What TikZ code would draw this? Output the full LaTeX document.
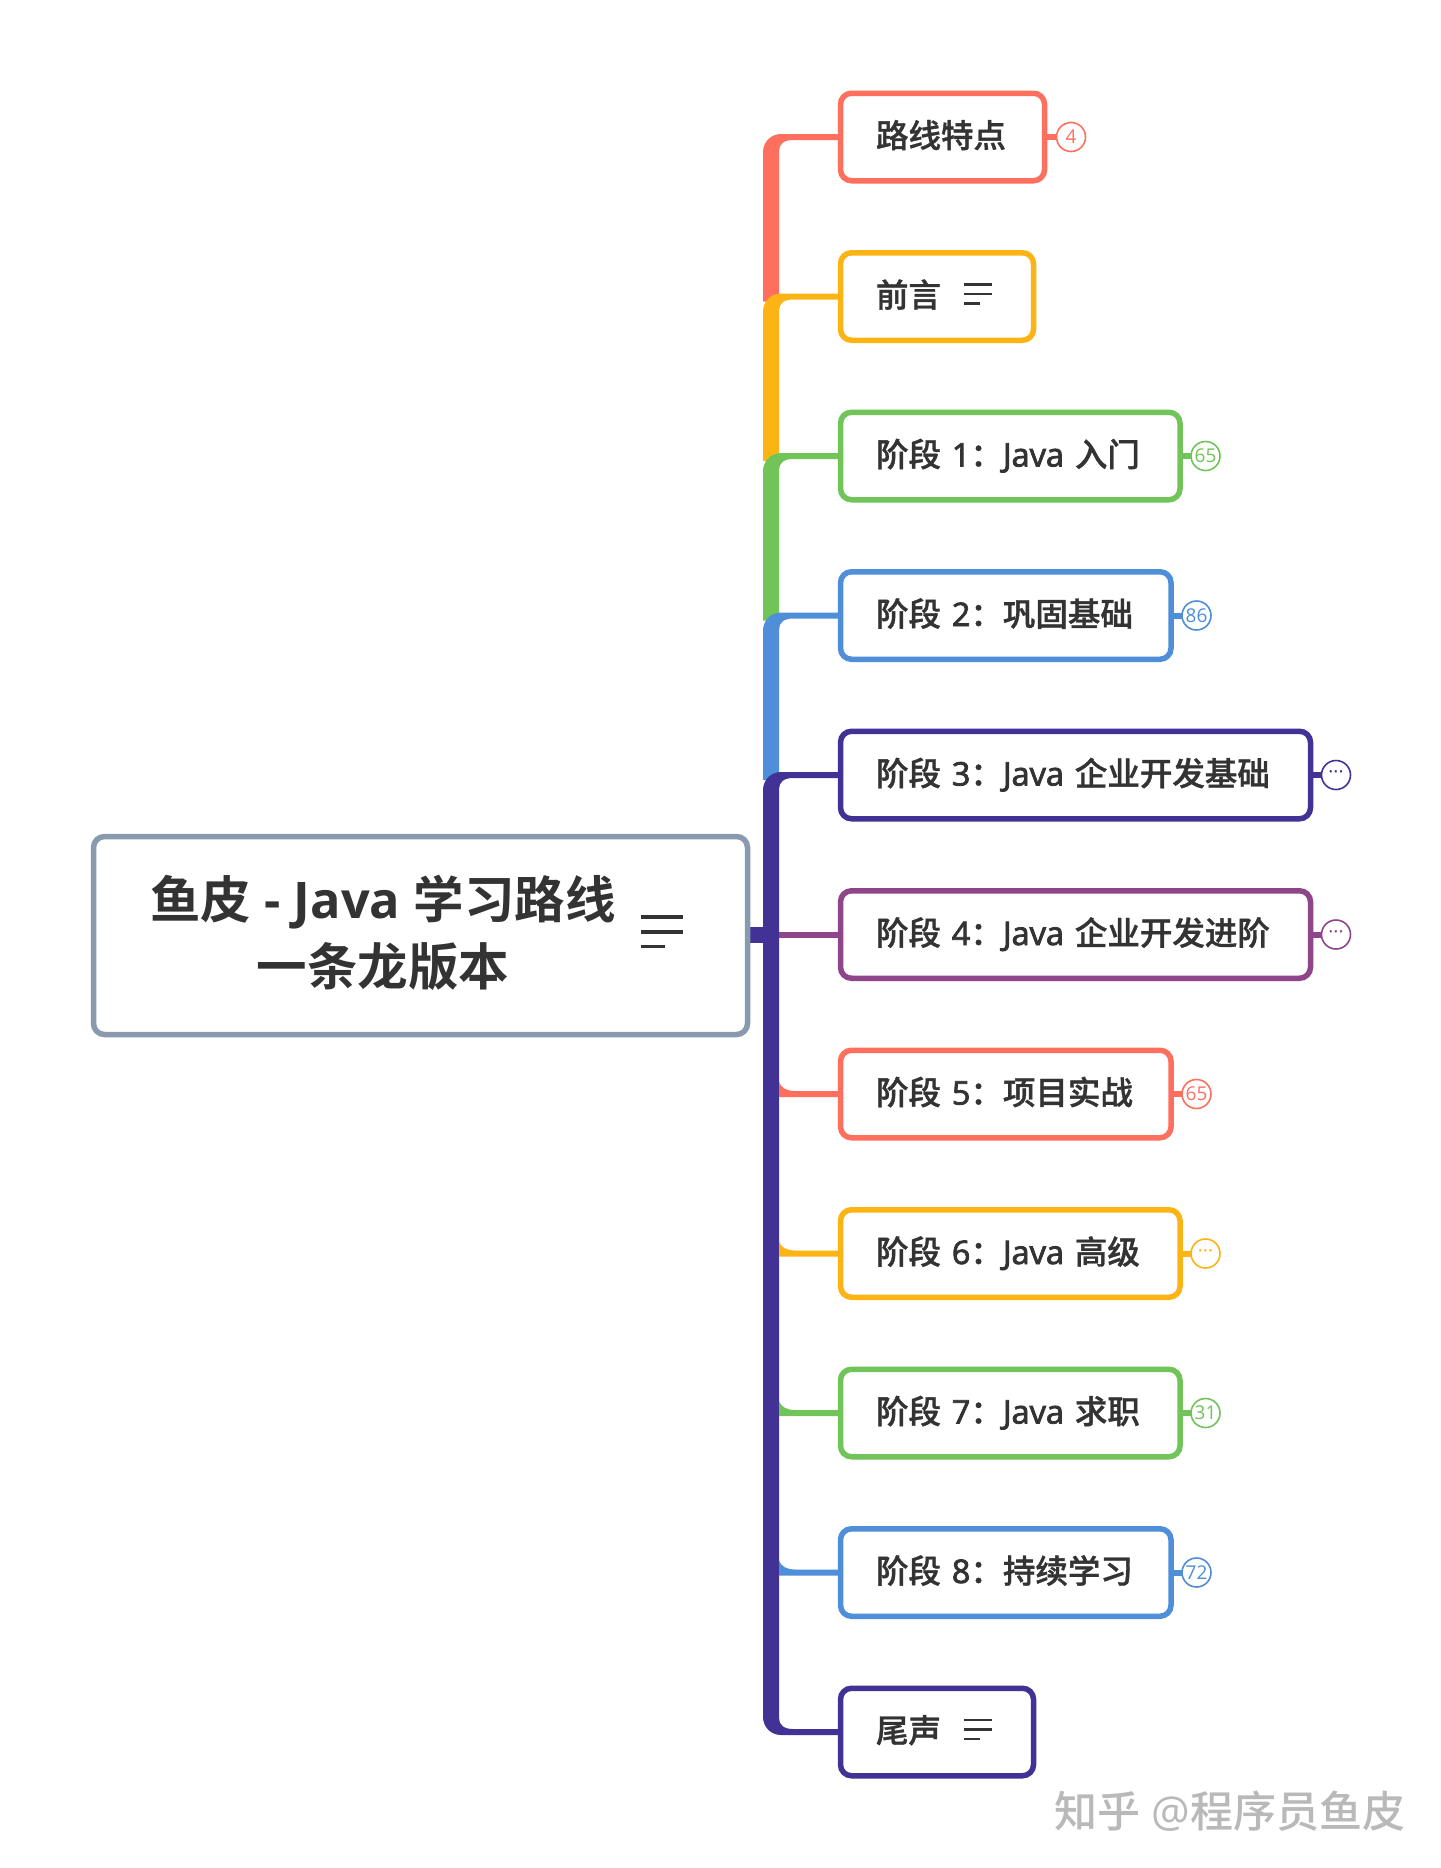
\documentclass[tikz,border=0pt]{standalone}
\usepackage{fontspec}
\usetikzlibrary{backgrounds,calc}
\setmainfont{Open Sans}
\newfontfamily\cj{Noto Sans CJK SC Medium}[FakeBold=1.1]
\newfontfamily\cjw{Noto Sans CJK SC Medium}
\newfontfamily\cjb{Noto Sans CJK SC Bold}
\newfontfamily\lt{Open Sans}[FakeBold=2.4]
\newfontfamily\ltb{Open Sans}
\definecolor{cred}{HTML}{FF6F5E}
\definecolor{cyel}{HTML}{FBB414}
\definecolor{cgrn}{HTML}{70C458}
\definecolor{cblu}{HTML}{4F8ED8}
\definecolor{cpur}{HTML}{423295}
\definecolor{cmag}{HTML}{8E4589}
\definecolor{cgry}{HTML}{8A9AAE}
\definecolor{ctxt}{HTML}{333333}
\definecolor{cwm}{HTML}{B9B9B9}
\tikzset{
  topic/.style={draw=#1,line width=5.5pt,fill=white,rounded corners=11pt,outer sep=0pt,
    minimum height=87.5pt,inner ysep=0pt,inner xsep=35.5pt,align=left,text=ctxt,
    font=\fontsize{32.5}{32.5}\selectfont,text height=21pt,text depth=0pt,anchor=west},
  rootbox/.style={draw=cgry,line width=5.5pt,fill=white,rounded corners=11pt,outer sep=0pt,
    minimum width=654pt,minimum height=198pt,anchor=center,inner sep=0pt},
  roottext/.style={align=center,text=ctxt,inner sep=0pt,
    font=\fontsize{50.5}{67}\selectfont},
  badge/.style={circle,draw=#1,line width=1.6pt,fill=white,minimum size=29pt,inner sep=0pt,
    outer sep=0pt,text=#1,font=\fontsize{19}{19}\selectfont},
  stub/.style={line width=6pt,draw=#1},
  notes/.style={line width=2.8pt,draw=#1},
  watermark/.style={text=cwm,inner sep=0pt,font=\fontsize{43}{43}\selectfont}
}
% branch with a rounded top corner: node, colour, next node, extra length past it
\newcommand\topbranch[4]{%
  \fill[#2] let \p1=(#1.west),\p2=(#3.west),\p3=(trunkL),\p4=(trunkR) in
    (\x3,\y2+#4) -- (\x3,\y1-15pt)
    .. controls (\x3,\y1-5pt) and (\x3+8pt,\y1+3pt) .. (\x3+18pt,\y1+3pt)
    -- (\x1,\y1+3pt) -- (\x1,\y1-3pt) -- (\x4+14pt,\y1-3pt)
    .. controls (\x4+5pt,\y1-3pt) and (\x4,\y1-7pt) .. (\x4,\y1-14pt)
    -- (\x4,\y2+#4) -- cycle;}
% branch with a small flare against the trunk
\newcommand\midbranch[2]{%
  \fill[#2] let \p1=(#1.west),\p4=(trunkR) in
    (\x4,\y1+12pt) .. controls (\x4+2pt,\y1+6pt) and (\x4+8pt,\y1+3pt) .. (\x4+16pt,\y1+3pt)
    -- (\x1,\y1+3pt) -- (\x1,\y1-3pt) -- (\x4,\y1-3pt) -- cycle;}
% last branch with rounded bottom corner
\newcommand\lastbranch[2]{%
  \fill[#2] let \p1=(#1.west),\p3=(trunkL),\p4=(trunkR) in
    (\x3,\y1+15pt)
    .. controls (\x3,\y1+5pt) and (\x3+8pt,\y1-3pt) .. (\x3+18pt,\y1-3pt)
    -- (\x1,\y1-3pt) -- (\x1,\y1+3pt) -- (\x4+14pt,\y1+3pt)
    .. controls (\x4+5pt,\y1+3pt) and (\x4,\y1+7pt) .. (\x4,\y1+14pt) -- cycle;}
% three note lines, given the top-left point
\newcommand\noteicon[5]{%
  \draw[notes=#5] let \p1=(#1) in (\x1,\y1) -- (\x1+#2,\y1)
     (\x1,\y1-#4) -- (\x1+#2,\y1-#4)
     (\x1,\y1-2*#4) -- (\x1+#3,\y1-2*#4);}
\newcommand\Lat[1]{{\lt #1}}
\begin{document}
\begin{tikzpicture}[x=1pt,y=-1pt]
\useasboundingbox (0,0) rectangle (1440,1868);
\begin{pgfonlayer}{background}
  \fill[white] (0,0) rectangle (1440,1868);
\end{pgfonlayer}
\coordinate (trunkL) at (763,0);
\coordinate (trunkR) at (779,0);

\node[rootbox] (root) at (420.5,935.5) {};
\node[roottext] (rootlabel) at (383,933) {{\cjb 鱼皮} {\ltb\bfseries - Java} {\cjb 学习路线}\\{\cjb 一条龙版本}};

\node[topic=cred,text width=133pt] (n0) at (840.5,137) {{\cj 路线特点}};
\node[topic=cyel,text width=122pt] (n1) at (840.5,296.5) {{\cj 前言}};
\node[topic=cgrn,text width=268.5pt] (n2) at (840.5,456) {{\cj 阶段} \Lat{1}{\cj ：}\Lat{Java} {\cj 入门}};
\node[topic=cblu,text width=259.5pt] (n3) at (840.5,615.5) {{\cj 阶段} \Lat{2}{\cj ：巩固基础}};
\node[topic=cpur,text width=399pt] (n4) at (840.5,775) {{\cj 阶段} \Lat{3}{\cj ：}\Lat{Java} {\cj 企业开发基础}};
\node[topic=cmag,text width=399pt] (n5) at (840.5,934.5) {{\cj 阶段} \Lat{4}{\cj ：}\Lat{Java} {\cj 企业开发进阶}};
\node[topic=cred,text width=259.5pt] (n6) at (840.5,1094) {{\cj 阶段} \Lat{5}{\cj ：项目实战}};
\node[topic=cyel,text width=268.5pt] (n7) at (840.5,1253.5) {{\cj 阶段} \Lat{6}{\cj ：}\Lat{Java} {\cj 高级}};
\node[topic=cgrn,text width=268.5pt] (n8) at (840.5,1413) {{\cj 阶段} \Lat{7}{\cj ：}\Lat{Java} {\cj 求职}};
\node[topic=cblu,text width=259.5pt] (n9) at (840.5,1572.5) {{\cj 阶段} \Lat{8}{\cj ：持续学习}};
\node[topic=cpur,text width=122pt] (n10) at (840.5,1732) {{\cj 尾声}};

\node[badge=cred] (b0) at (1071,137) {4};
\node[badge=cgrn] (b2) at (1205.5,456) {65};
\node[badge=cblu] (b3) at (1196.5,615.5) {86};
\node[badge=cpur] (b4) at (1336,775) {···};
\node[badge=cmag] (b5) at (1336,934.5) {···};
\node[badge=cred] (b6) at (1196.5,1094) {65};
\node[badge=cyel] (b7) at (1205.5,1253.5) {···};
\node[badge=cgrn] (b8) at (1205.5,1413) {31};
\node[badge=cblu] (b9) at (1196.5,1572.5) {72};

\begin{pgfonlayer}{background}
  \topbranch{n0}{cred}{n1}{-5pt}
  \topbranch{n1}{cyel}{n2}{-5pt}
  \topbranch{n2}{cgrn}{n3}{-5pt}
  \topbranch{n3}{cblu}{n4}{-5pt}
  \topbranch{n4}{cpur}{n10}{14pt}
  \lastbranch{n10}{cpur}
  \draw[stub=cmag] (trunkR |- n5.west) -- (n5.west);
  \midbranch{n6}{cred}
  \midbranch{n7}{cyel}
  \midbranch{n8}{cgrn}
  \midbranch{n9}{cblu}
  \draw[line width=16pt,draw=cpur] (root.east |- n5.west) -- (trunkL |- n5.west);
  \draw[stub=cred] (n0.east) -- (b0);
  \draw[stub=cgrn] (n2.east) -- (b2);
  \draw[stub=cblu] (n3.east) -- (b3);
  \draw[stub=cpur] (n4.east) -- (b4);
  \draw[stub=cmag] (n5.east) -- (b5);
  \draw[stub=cred] (n6.east) -- (b6);
  \draw[stub=cyel] (n7.east) -- (b7);
  \draw[stub=cgrn] (n8.east) -- (b8);
  \draw[stub=cblu] (n9.east) -- (b9);
\end{pgfonlayer}

\coordinate (i1) at (964,284.5);
\coordinate (i10) at (964,1720);
\noteicon{i1}{28pt}{16pt}{9.5pt}{ctxt}
\noteicon{i10}{28pt}{16pt}{9.5pt}{ctxt}
\coordinate (iroot) at (641,917);
\draw[line width=3.6pt,draw=ctxt] (iroot) -- ++(42,0) ++(-42,15) -- ++(42,0) ++(-42,14.5) -- ++(24,0);

\node[watermark] (wm) at (1230,1811) {{\cjw 知乎} {\ltb @}{\cjw 程序员鱼皮}};
\end{tikzpicture}
\end{document}
